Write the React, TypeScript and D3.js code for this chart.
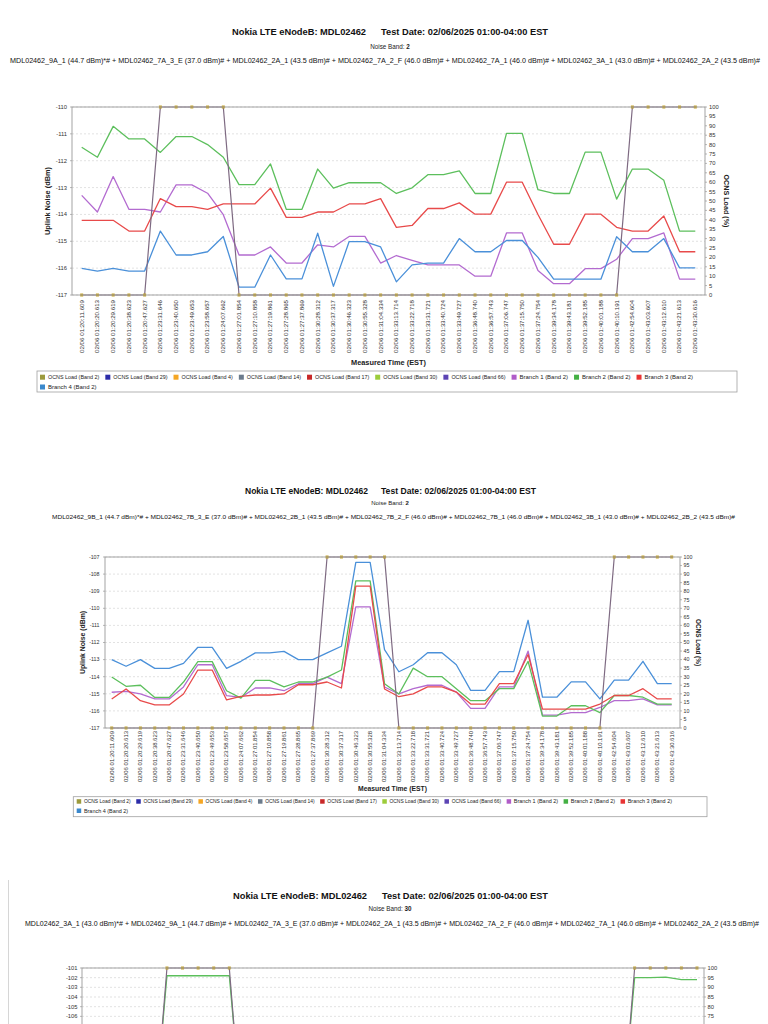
import React from "react";
import * as d3 from "d3";

// ---------- DATA ----------
const timeLabels = [
  "02/06 01:20:11.609", "02/06 01:20:20.613", "02/06 01:20:29.619", "02/06 01:20:38.623", "02/06 01:20:47.627",
  "02/06 01:23:31.646", "02/06 01:23:40.650", "02/06 01:23:49.653", "02/06 01:23:58.657", "02/06 01:24:07.662",
  "02/06 01:27:01.854", "02/06 01:27:10.858", "02/06 01:27:19.861", "02/06 01:27:28.865", "02/06 01:27:37.869",
  "02/06 01:30:28.312", "02/06 01:30:37.317", "02/06 01:30:46.323", "02/06 01:30:55.328", "02/06 01:31:04.334",
  "02/06 01:33:13.714", "02/06 01:33:22.718", "02/06 01:33:31.721", "02/06 01:33:40.724", "02/06 01:33:49.727",
  "02/06 01:36:48.740", "02/06 01:36:57.743", "02/06 01:37:06.747", "02/06 01:37:15.750", "02/06 01:37:24.754",
  "02/06 01:39:34.178", "02/06 01:39:43.181", "02/06 01:39:52.185", "02/06 01:40:01.188", "02/06 01:40:10.191",
  "02/06 01:42:54.604", "02/06 01:43:03.607", "02/06 01:43:12.610", "02/06 01:43:21.613", "02/06 01:43:30.616",
];

const legendLabels = [
  "OCNS Load (Band 2)", "OCNS Load (Band 29)", "OCNS Load (Band 4)", "OCNS Load (Band 14)",
  "OCNS Load (Band 17)", "OCNS Load (Band 30)", "OCNS Load (Band 66)", "Branch 1 (Band 2)",
  "Branch 2 (Band 2)", "Branch 3 (Band 2)", "Branch 4 (Band 2)",
];
const legendColors = [
  "#9c9a3c", "#2c2ca8", "#f5a623", "#6b7b8c", "#c82828", "#9ccc3a", "#5c44b4",
  "#b05cc8", "#44b044", "#e83434", "#3a88cc",
];

// Chart 1 (Noise Band 2, sector A)
const c1Branch1 = [-113.29, -113.91, -112.59, -113.81, -113.81, -113.91, -112.90, -112.90, -113.21, -114.01,
  -115.51, -115.51, -115.21, -115.81, -115.81, -115.13, -115.21, -114.82, -114.82, -115.81,
  -115.53, -115.71, -115.88, -115.88, -115.88, -116.30, -116.30, -114.69, -114.69, -116.09,
  -116.58, -116.58, -116.02, -116.02, -115.67, -114.90, -114.90, -114.69, -116.41, -116.41];
const c1Branch2 = [-111.50, -111.87, -110.72, -111.19, -111.19, -111.69, -111.10, -111.10, -111.40, -111.87,
  -112.89, -112.89, -112.12, -113.81, -113.81, -112.31, -113.02, -112.82, -112.82, -112.82,
  -113.22, -113.01, -112.52, -112.52, -112.38, -113.22, -113.22, -110.98, -110.98, -113.08,
  -113.22, -113.22, -111.68, -111.68, -113.43, -112.31, -112.31, -112.73, -114.62, -114.62];
const c1Branch3 = [-114.22, -114.22, -114.22, -114.62, -114.62, -113.41, -113.71, -113.71, -113.81, -113.61,
  -113.61, -113.61, -113.02, -114.11, -114.11, -113.91, -113.91, -113.61, -113.61, -113.41,
  -114.48, -114.41, -113.78, -113.78, -113.57, -113.99, -113.99, -112.80, -112.80, -114.00,
  -115.11, -115.11, -113.99, -113.99, -114.48, -114.62, -114.62, -114.06, -115.39, -115.39];
const c1Branch4 = [-116.01, -116.11, -116.01, -116.11, -116.11, -114.62, -115.51, -115.51, -115.39, -114.82,
  -116.71, -116.71, -115.51, -116.40, -116.40, -114.70, -116.68, -115.01, -115.01, -115.21,
  -116.51, -115.88, -115.81, -115.81, -114.90, -115.39, -115.39, -114.97, -114.97, -115.60,
  -116.41, -116.41, -116.41, -116.41, -114.83, -115.39, -115.39, -114.90, -115.99, -115.99];
const c1Ocns = [0, 0, 0, 0, 0, 100, 100, 100, 100, 100,
  0, 0, 0, 0, 0, 0, 0, 0, 0, 0,
  0, 0, 0, 0, 0, 0, 0, 0, 0, 0,
  0, 0, 0, 0, 0, 100, 100, 100, 100, 100];

// Chart 2 (Noise Band 2, sector B)
const c2Branch1 = [-114.91, -114.86, -115.01, -115.30, -115.30, -114.60, -113.30, -113.30, -115.11, -115.21,
  -114.66, -114.66, -114.82, -114.41, -114.41, -114.02, -114.41, -109.92, -109.92, -114.60,
  -115.01, -114.70, -114.50, -114.50, -114.90, -115.85, -115.85, -114.60, -114.60, -112.50,
  -116.25, -116.25, -116.10, -116.10, -115.80, -115.40, -115.40, -115.30, -115.65, -115.65];
const c2Branch2 = [-114.02, -114.56, -114.50, -115.21, -115.21, -114.31, -113.12, -113.12, -114.82, -115.25,
  -114.21, -114.21, -114.60, -114.31, -114.31, -114.02, -113.61, -108.40, -108.40, -114.41,
  -115.01, -113.50, -114.00, -114.00, -114.70, -115.40, -115.40, -114.70, -114.70, -113.10,
  -116.30, -116.30, -115.70, -115.70, -116.10, -115.10, -115.10, -115.20, -115.60, -115.60];
const c2Branch3 = [-115.30, -114.72, -115.40, -115.65, -115.65, -115.01, -113.61, -113.61, -115.36, -115.15,
  -115.07, -115.07, -115.01, -114.47, -114.47, -114.31, -114.66, -108.70, -108.70, -114.72,
  -115.17, -115.00, -114.60, -114.60, -114.90, -115.60, -115.60, -114.40, -114.40, -112.70,
  -115.90, -115.90, -115.90, -115.90, -115.60, -115.10, -115.10, -114.70, -115.30, -115.30];
const c2Branch4 = [-113.00, -113.39, -113.00, -113.51, -113.51, -113.22, -112.28, -112.28, -113.51, -113.10,
  -112.61, -112.61, -112.52, -113.00, -113.00, -112.61, -112.22, -107.31, -107.31, -112.42,
  -113.71, -113.30, -112.60, -112.60, -113.30, -114.80, -114.80, -113.70, -113.70, -110.70,
  -115.20, -115.20, -114.30, -114.30, -115.30, -114.20, -114.20, -113.10, -114.40, -114.40];
const c2Ocns = [0, 0, 0, 0, 0, 0, 0, 0, 0, 0,
  0, 0, 0, 0, 0, 100, 100, 100, 100, 100,
  0, 0, 0, 0, 0, 0, 0, 0, 0, 0,
  0, 0, 0, 0, 0, 100, 100, 100, 100, 100];

// Chart 3 (Noise Band 30) - only the top of the plot is visible
const c3Branch1 = [-119.6, -119.8, -119.5, -119.7, -119.6, -108.5, -108.5, -108.6, -108.4, -108.5,
  -119.7, -119.5, -119.8, -119.6, -119.7, -119.5, -119.6, -119.8, -119.7, -119.6,
  -119.5, -119.7, -119.6, -119.8, -119.5, -119.6, -119.7, -119.5, -119.8, -119.6,
  -119.7, -119.5, -119.6, -119.8, -119.6, -108.7, -108.7, -108.6, -108.9, -108.9];
const c3Branch2 = [-120.3, -120.1, -120.4, -120.2, -120.3, -101.8, -101.8, -101.8, -101.8, -101.8,
  -120.0, -119.8, -120.1, -120.2, -120.0, -120.3, -120.1, -119.9, -120.2, -120.0,
  -120.3, -120.1, -120.2, -120.0, -120.1, -120.3, -120.2, -119.9, -120.0, -120.2,
  -120.1, -120.3, -120.0, -120.2, -120.1, -102.0, -102.0, -101.95, -102.2, -102.2];
const c3Branch3 = [-119.2, -119.4, -119.1, -119.3, -119.2, -109.5, -109.5, -109.4, -109.6, -109.5,
  -119.3, -119.1, -119.4, -119.2, -119.3, -119.1, -119.2, -119.4, -119.3, -119.2,
  -119.1, -119.3, -119.2, -119.4, -119.1, -119.2, -119.3, -119.1, -119.4, -119.2,
  -119.3, -119.1, -119.2, -119.4, -119.2, -109.8, -109.8, -109.7, -110.0, -110.0];
const c3Branch4 = [-118.8, -118.6, -118.9, -118.7, -118.8, -110.2, -110.2, -110.1, -110.3, -110.2,
  -118.7, -118.9, -118.6, -118.8, -118.7, -118.9, -118.8, -118.6, -118.7, -118.8,
  -118.9, -118.7, -118.8, -118.6, -118.9, -118.8, -118.7, -118.9, -118.6, -118.8,
  -118.7, -118.9, -118.8, -118.6, -118.8, -110.4, -110.4, -110.3, -110.6, -110.6];
const c3Ocns = [0, 0, 0, 0, 0, 100, 100, 100, 100, 100,
  0, 0, 0, 0, 0, 0, 0, 0, 0, 0,
  0, 0, 0, 0, 0, 0, 0, 0, 0, 0,
  0, 0, 0, 0, 0, 100, 100, 100, 100, 100];

const stations1 = "MDL02462_9A_1 (44.7 dBm)*# + MDL02462_7A_3_E (37.0 dBm)# + MDL02462_2A_1 (43.5 dBm)# + MDL02462_7A_2_F (46.0 dBm)# + MDL02462_7A_1 (46.0 dBm)# + MDL02462_3A_1 (43.0 dBm)# + MDL02462_2A_2 (43.5 dBm)#";
const stations2 = "MDL02462_9B_1 (44.7 dBm)*# + MDL02462_7B_3_E (37.0 dBm)# + MDL02462_2B_1 (43.5 dBm)# + MDL02462_7B_2_F (46.0 dBm)# + MDL02462_7B_1 (46.0 dBm)# + MDL02462_3B_1 (43.0 dBm)# + MDL02462_2B_2 (43.5 dBm)#";
const stations3 = "MDL02462_3A_1 (43.0 dBm)*# + MDL02462_9A_1 (44.7 dBm)# + MDL02462_7A_3_E (37.0 dBm)# + MDL02462_2A_1 (43.5 dBm)# + MDL02462_7A_2_F (46.0 dBm)# + MDL02462_7A_1 (46.0 dBm)# + MDL02462_2A_2 (43.5 dBm)#";

const titleA = "Nokia LTE eNodeB: MDL02462";
const titleB = "Test Date: 02/06/2025 01:00-04:00 EST";

// ---------- LAYOUT ----------
const FONT = "'Liberation Sans', Arial, Helvetica, sans-serif";
const PAGE_H = 1024;
const branchColors = ["#b36bd0", "#5cbf5c", "#e84a4a", "#4a90d9"];
const ocnsLine = "#7e6a82";
const ocnsMarker = "#c4a22c";

type Layout = any;

const layout1: Layout = {
  plotL: 72, plotR: 705, plotT: 107, plotB: 295, xStart: 81.7, xEnd: 695.3, yMin: -117, yMax: -110,
  titleY: 34.5, titleSize: 9, tA: [232, 366], tB: [381, 548],
  subY: 48.5, subSize: 6.3, stY: 62.5, stX: [10, 760], stSize: 6.3,
  tickFont: 5.8, leftLabelX: 67, rightLabelX: 709,
  xLabTop: 300, xLabLen: 53, xLabFont: 5.4,
  yTitleX: 48, yTitleLen: 68, rTitleX: 726, rTitleLen: 53, axFont: 6.8,
  xTitleY: 364.5, xTitleLen: 75,
  lg: { x: 37, y: 371, w: 700, h: 21, r1: 379.2, r2: 389, sq: 5, g1: 3, g2: 6, first: 40, end: 693, font: 5.8 },
};
const layout2: Layout = {
  plotL: 105, plotR: 680, plotT: 557, plotB: 728, xStart: 111.7, xEnd: 671.7, yMin: -117, yMax: -107,
  titleY: 493.5, titleSize: 8.5, tA: [245, 368], tB: [381, 536],
  subY: 505, subSize: 6, stY: 519, stX: [52, 735], stSize: 6,
  tickFont: 5.3, leftLabelX: 99.5, rightLabelX: 683.5,
  xLabTop: 731, xLabLen: 51, xLabFont: 5.2,
  yTitleX: 83, yTitleLen: 63, rTitleX: 698, rTitleLen: 47, axFont: 6.3,
  xTitleY: 790.5, xTitleLen: 69,
  lg: { x: 73.3, y: 796.7, w: 633.7, h: 20, r1: 803.2, r2: 812.5, sq: 4.5, g1: 2.7, g2: 5.5, first: 76.7, end: 672, font: 5.4 },
};
const layout3: Layout = {
  plotL: 82, plotR: 704, plotT: 968, plotB: 1161.4, xStart: 89, xEnd: 697, yMin: -121, yMax: -101,
  titleY: 898.5, titleSize: 9, tA: [233, 367], tB: [382, 548],
  subY: 911, subSize: 6.3, stY: 925.5, stX: [25, 759], stSize: 6.3,
  tickFont: 5.8, leftLabelX: 77.5, rightLabelX: 707.5,
  xLabTop: 1166, xLabLen: 53, xLabFont: 5.4,
  yTitleX: 58, yTitleLen: 68, rTitleX: 726, rTitleLen: 53, axFont: 6.8,
  xTitleY: 1230, xTitleLen: 75,
  lg: { x: 50, y: 1236, w: 680, h: 21, r1: 1244, r2: 1254, sq: 5, g1: 3, g2: 6, first: 53, end: 700, font: 5.8 },
};

function Chart({ id, L, branches, ocns, band, stations }: any) {
  const x = d3.scalePoint<string>().domain(timeLabels).range([L.xStart, L.xEnd]);
  const y = d3.scaleLinear().domain([L.yMin, L.yMax]).range([L.plotB, L.plotT]);
  const yR = d3.scaleLinear().domain([0, 100]).range([L.plotB, L.plotT]);
  const onPage = (v: number) => v < PAGE_H + 2;
  const leftTicks = y.ticks(L.yMax - L.yMin).filter((t) => onPage(y(t)));
  const rightTicks = yR.ticks(20).filter((t) => onPage(yR(t)));
  const mk = (sc: any) =>
    d3.line<number>().x((_, i) => x(timeLabels[i]) as number).y((d) => sc(d));
  const cy = (L.plotT + L.plotB) / 2;
  const cx = (L.plotL + L.plotR) / 2;

  const lg = L.lg;
  const totalChars = legendLabels.slice(0, 10).reduce((s, t) => s + t.length, 0);
  const c = (lg.end - lg.first - 10 * (lg.sq + lg.g1) - 9 * lg.g2) / totalChars;
  let pos = lg.first;
  const items = legendLabels.map((lab, i) => {
    const w = lab.length * c;
    let ix = pos, row = lg.r1;
    if (i === 10) { ix = lg.first; row = lg.r2; }
    else pos += lg.sq + lg.g1 + w + lg.g2;
    return { lab, w, ix, row, color: legendColors[i] };
  });

  return (
    <g>
      <defs>
        <clipPath id={`clip-${id}`}>
          <rect x={L.plotL} y={L.plotT - 2} width={L.plotR - L.plotL} height={L.plotB - L.plotT + 4} />
        </clipPath>
      </defs>
      {/* titles */}
      <text x={L.tA[0]} y={L.titleY} fontSize={L.titleSize} fontWeight="bold" fill="#111"
        textLength={L.tA[1] - L.tA[0]} lengthAdjust="spacingAndGlyphs">{titleA}</text>
      <text x={L.tB[0]} y={L.titleY} fontSize={L.titleSize} fontWeight="bold" fill="#111"
        textLength={L.tB[1] - L.tB[0]} lengthAdjust="spacingAndGlyphs">{titleB}</text>
      <text x={390} y={L.subY} fontSize={L.subSize} textAnchor="middle" fill="#222">
        Noise Band: <tspan fontWeight="bold">{band}</tspan>
      </text>
      <text x={L.stX[0]} y={L.stY} fontSize={L.stSize} fill="#111"
        textLength={L.stX[1] - L.stX[0]} lengthAdjust="spacingAndGlyphs">{stations}</text>

      {/* plot bg + grid */}
      <rect x={L.plotL} y={L.plotT} width={L.plotR - L.plotL} height={L.plotB - L.plotT} fill="#fff" />
      {leftTicks.map((t) => (
        <line key={"g" + t} x1={L.plotL} x2={L.plotR} y1={y(t)} y2={y(t)} stroke="#cfcfcf" strokeWidth={0.6} strokeDasharray="2,2" />
      ))}
      {/* axis labels */}
      {leftTicks.map((t) => (
        <g key={"l" + t}>
          <line x1={L.plotL - 2} x2={L.plotL} y1={y(t)} y2={y(t)} stroke="#888" strokeWidth={0.6} />
          <text x={L.leftLabelX} y={y(t)} dy="0.35em" fontSize={L.tickFont} textAnchor="end" fill="#333">{t}</text>
        </g>
      ))}
      {rightTicks.map((t) => (
        <g key={"r" + t}>
          <line x1={L.plotR} x2={L.plotR + 2} y1={yR(t)} y2={yR(t)} stroke="#888" strokeWidth={0.6} />
          <text x={L.rightLabelX} y={yR(t)} dy="0.35em" fontSize={L.tickFont} fill="#333">{t}</text>
        </g>
      ))}
      {/* x labels */}
      {onPage(L.xLabTop) && timeLabels.map((t) => (
        <text key={"x" + t} transform={`translate(${x(t)},${L.xLabTop}) rotate(-90)`} dy="0.35em"
          fontSize={L.xLabFont} textAnchor="end" fill="#333" textLength={L.xLabLen} lengthAdjust="spacingAndGlyphs">{t}</text>
      ))}
      {/* axis titles */}
      {onPage(cy) && (
        <>
          <text transform={`translate(${L.yTitleX},${cy}) rotate(-90)`} dy="0.35em" textAnchor="middle"
            fontSize={L.axFont} fontWeight="bold" fill="#222" textLength={L.yTitleLen} lengthAdjust="spacingAndGlyphs">Uplink Noise (dBm)</text>
          <text transform={`translate(${L.rTitleX},${cy}) rotate(90)`} dy="0.35em" textAnchor="middle"
            fontSize={L.axFont} fontWeight="bold" fill="#222" textLength={L.rTitleLen} lengthAdjust="spacingAndGlyphs">OCNS Load (%)</text>
        </>
      )}
      {onPage(L.xTitleY) && (
        <text x={cx} y={L.xTitleY} textAnchor="middle" fontSize={L.axFont + 0.2} fontWeight="bold" fill="#222"
          textLength={L.xTitleLen} lengthAdjust="spacingAndGlyphs">Measured Time (EST)</text>
      )}

      {/* series */}
      <g clipPath={`url(#clip-${id})`}>
        {branches.map((vals: number[], i: number) => (
          <path key={"b" + i} d={mk(y)(vals) || ""} fill="none" stroke={branchColors[i]} strokeWidth={1.3} strokeLinejoin="round" />
        ))}
        <path d={mk(yR)(ocns) || ""} fill="none" stroke={ocnsLine} strokeWidth={1.2} />
        {ocns.map((v: number, i: number) => (
          <rect key={"m" + i} x={(x(timeLabels[i]) as number) - 1.5} y={yR(v) - 1.5} width={3} height={3} fill={ocnsMarker} />
        ))}
      </g>
      {/* plot outline */}
      <rect x={L.plotL} y={L.plotT} width={L.plotR - L.plotL} height={L.plotB - L.plotT} fill="none" stroke="#9a9a9a" strokeWidth={0.9} />

      {/* legend */}
      {onPage(lg.y) && (
        <g>
          <rect x={lg.x} y={lg.y} width={lg.w} height={lg.h} fill="#fff" stroke="#a0a0a0" strokeWidth={0.8} />
          {items.map((it) => (
            <g key={it.lab}>
              <rect x={it.ix} y={it.row - lg.sq + 0.5} width={lg.sq} height={lg.sq} fill={it.color} />
              <text x={it.ix + lg.sq + lg.g1} y={it.row} fontSize={lg.font} fill="#222"
                textLength={it.w} lengthAdjust="spacingAndGlyphs">{it.lab}</text>
            </g>
          ))}
        </g>
      )}
    </g>
  );
}

export default function App() {
  return (
    <svg width={768} height={1024} viewBox="0 0 768 1024"
      style={{ position: "absolute", left: 0, top: 0, background: "#fff" }} fontFamily={FONT}>
      <rect width={768} height={1024} fill="#fff" />
      <line x1={8.5} x2={8.5} y1={880} y2={1024} stroke="#d6d6d6" strokeWidth={1} />
      <Chart id="c1" L={layout1} branches={[c1Branch1, c1Branch2, c1Branch3, c1Branch4]} ocns={c1Ocns} band="2" stations={stations1} />
      <Chart id="c2" L={layout2} branches={[c2Branch1, c2Branch2, c2Branch3, c2Branch4]} ocns={c2Ocns} band="2" stations={stations2} />
      <Chart id="c3" L={layout3} branches={[c3Branch1, c3Branch2, c3Branch3, c3Branch4]} ocns={c3Ocns} band="30" stations={stations3} />
    </svg>
  );
}
